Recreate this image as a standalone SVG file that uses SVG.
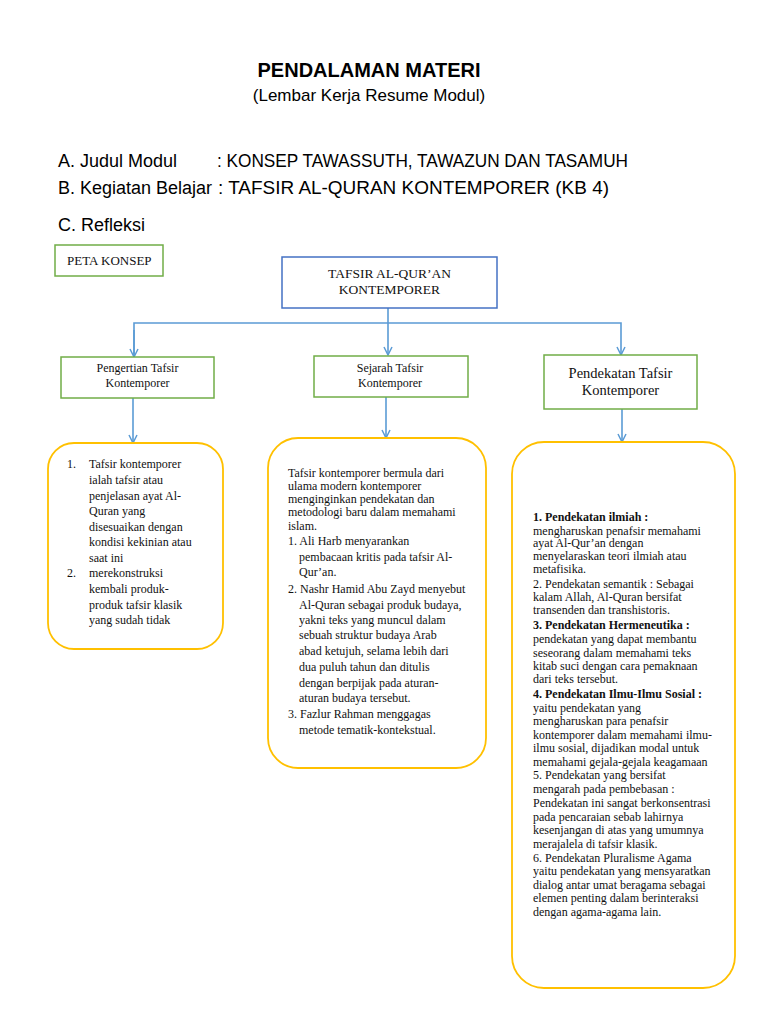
<svg xmlns="http://www.w3.org/2000/svg" width="768" height="1024" viewBox="0 0 768 1024">
<defs>
<style>
.hd{font-family:"Liberation Sans",Arial,sans-serif;fill:#000}
.sf{font-family:"Liberation Serif","Times New Roman",serif;fill:#111}
.bt{font-family:"Liberation Serif","Times New Roman",serif;font-size:12px;fill:#111}
.b{font-weight:bold}
.gbox{fill:#fff;stroke:#70AD47;stroke-width:1.5}
.bbox{fill:#fff;stroke:#4472C4;stroke-width:1.5}
.ybox{fill:#fff;stroke:#FFC000;stroke-width:1.8}
.con{fill:none;stroke:#5B9BD5;stroke-width:1.6}
</style>
<marker id="arr" viewBox="0 0 10 10" refX="9" refY="5" markerWidth="10" markerHeight="10" markerUnits="userSpaceOnUse" orient="auto">
<path d="M1,1 L9,5 L1,9" fill="none" stroke="#5B9BD5" stroke-width="1.5"/>
</marker>
</defs>
<rect width="768" height="1024" fill="#fff"/>

<g id="header">
<text class="hd b" x="369" y="77" font-size="20" text-anchor="middle">PENDALAMAN MATERI</text>
<text class="hd" x="369" y="101" font-size="17" text-anchor="middle">(Lembar Kerja Resume Modul)</text>
<text class="hd" x="58" y="167" font-size="18">A. Judul Modul</text>
<text class="hd" x="217" y="167" font-size="18" textLength="411" lengthAdjust="spacingAndGlyphs">: KONSEP TAWASSUTH, TAWAZUN DAN TASAMUH</text>
<text class="hd" x="58" y="194" font-size="18">B. Kegiatan Belajar</text>
<text class="hd" x="218" y="194" font-size="18" textLength="391" lengthAdjust="spacingAndGlyphs">: TAFSIR AL-QURAN KONTEMPORER (KB 4)</text>
<text class="hd" x="58" y="231" font-size="18">C. Refleksi</text>
</g>

<g id="peta-konsep">
<rect class="gbox" x="55" y="245" width="108" height="31"/>
<text class="sf" x="67" y="265" font-size="13">PETA KONSEP</text>
</g>

<g id="connectors">
<line class="con" x1="388" y1="308" x2="388" y2="355" marker-end="url(#arr)"/>
<polyline class="con" points="134,357 134,323 621,323 621,355" marker-end="url(#arr)"/>
<line class="con" x1="134" y1="330" x2="134" y2="357" marker-end="url(#arr)"/>
<line class="con" x1="133" y1="398" x2="133" y2="443" marker-end="url(#arr)"/>
<line class="con" x1="386" y1="397" x2="386" y2="438" marker-end="url(#arr)"/>
<line class="con" x1="622" y1="409" x2="622" y2="442" marker-end="url(#arr)"/>
</g>

<g id="main">
<rect class="bbox" x="282" y="257" width="215" height="51"/>
<text class="sf" x="389.5" y="278" font-size="13.5" text-anchor="middle">TAFSIR AL-QUR’AN</text>
<text class="sf" x="389.5" y="294" font-size="13.5" text-anchor="middle">KONTEMPORER</text>
</g>

<g id="pengertian">
<rect class="gbox" x="61" y="357" width="153" height="41"/>
<text class="sf" x="137.5" y="372" font-size="12" text-anchor="middle">Pengertian Tafsir</text>
<text class="sf" x="137.5" y="387" font-size="12" text-anchor="middle">Kontemporer</text>
</g>

<g id="sejarah">
<rect class="gbox" x="314" y="356" width="154" height="41"/>
<text class="sf" x="390" y="372" font-size="12" text-anchor="middle">Sejarah Tafsir</text>
<text class="sf" x="390" y="387" font-size="12" text-anchor="middle">Kontemporer</text>
</g>

<g id="pendekatan">
<rect class="gbox" x="544" y="355" width="153" height="54"/>
<text class="sf" x="620.5" y="378" font-size="14.5" text-anchor="middle">Pendekatan Tafsir</text>
<text class="sf" x="620.5" y="395" font-size="14.5" text-anchor="middle">Kontemporer</text>
</g>

<g id="isi-pengertian">
<rect class="ybox" x="48" y="443" width="175" height="206" rx="26" ry="26"/>
<text class="bt" x="67" y="468">1.</text>
<text class="bt" x="89" y="468">Tafsir kontemporer</text>
<text class="bt" x="89" y="484">ialah tafsir atau</text>
<text class="bt" x="89" y="500">penjelasan ayat Al-</text>
<text class="bt" x="89" y="515">Quran yang</text>
<text class="bt" x="89" y="531">disesuaikan dengan</text>
<text class="bt" x="89" y="546">kondisi kekinian atau</text>
<text class="bt" x="89" y="562">saat ini</text>
<text class="bt" x="67" y="577">2.</text>
<text class="bt" x="89" y="577">merekonstruksi</text>
<text class="bt" x="89" y="593">kembali produk-</text>
<text class="bt" x="89" y="609">produk tafsir klasik</text>
<text class="bt" x="89" y="624">yang sudah tidak</text>
</g>

<g id="isi-sejarah">
<rect class="ybox" x="268" y="438" width="218" height="330" rx="30" ry="30"/>
<text class="bt" x="288" y="477">Tafsir kontemporer bermula dari</text>
<text class="bt" x="288" y="490">ulama modern kontemporer</text>
<text class="bt" x="288" y="503">menginginkan pendekatan dan</text>
<text class="bt" x="288" y="516">metodologi baru dalam memahami</text>
<text class="bt" x="288" y="530">islam.</text>
<text class="bt" x="288" y="545">1. Ali Harb menyarankan</text>
<text class="bt" x="299" y="561">pembacaan kritis pada tafsir Al-</text>
<text class="bt" x="299" y="576">Qur’an.</text>
<text class="bt" x="288" y="593">2. Nashr Hamid Abu Zayd menyebut</text>
<text class="bt" x="299" y="609">Al-Quran sebagai produk budaya,</text>
<text class="bt" x="299" y="624">yakni teks yang muncul dalam</text>
<text class="bt" x="299" y="639">sebuah struktur budaya Arab</text>
<text class="bt" x="299" y="655">abad ketujuh, selama lebih dari</text>
<text class="bt" x="299" y="671">dua puluh tahun dan ditulis</text>
<text class="bt" x="299" y="687">dengan berpijak pada aturan-</text>
<text class="bt" x="299" y="702">aturan budaya tersebut.</text>
<text class="bt" x="288" y="718">3. Fazlur Rahman menggagas</text>
<text class="bt" x="299" y="734">metode tematik-kontekstual.</text>
</g>

<g id="isi-pendekatan">
<rect class="ybox" x="512" y="442" width="223" height="546" rx="32" ry="32"/>
<text class="bt b" x="533" y="521">1. Pendekatan ilmiah :</text>
<text class="bt" x="533" y="535">mengharuskan penafsir memahami</text>
<text class="bt" x="533" y="547">ayat Al-Qur’an dengan</text>
<text class="bt" x="533" y="560">menyelaraskan teori ilmiah atau</text>
<text class="bt" x="533" y="573">metafisika.</text>
<text class="bt" x="533" y="588">2. Pendekatan semantik : Sebagai</text>
<text class="bt" x="533" y="601">kalam Allah, Al-Quran bersifat</text>
<text class="bt" x="533" y="614">transenden dan transhistoris.</text>
<text class="bt b" x="533" y="629">3. Pendekatan Hermeneutika :</text>
<text class="bt" x="533" y="643">pendekatan yang dapat membantu</text>
<text class="bt" x="533" y="657">seseorang dalam memahami teks</text>
<text class="bt" x="533" y="670">kitab suci dengan cara pemaknaan</text>
<text class="bt" x="533" y="683">dari teks tersebut.</text>
<text class="bt b" x="533" y="698">4. Pendekatan Ilmu-Ilmu Sosial :</text>
<text class="bt" x="533" y="712">yaitu pendekatan yang</text>
<text class="bt" x="533" y="725">mengharuskan para penafsir</text>
<text class="bt" x="533" y="739">kontemporer dalam memahami ilmu-</text>
<text class="bt" x="533" y="752">ilmu sosial, dijadikan modal untuk</text>
<text class="bt" x="533" y="766">memahami gejala-gejala keagamaan</text>
<text class="bt" x="533" y="779">5. Pendekatan yang bersifat</text>
<text class="bt" x="533" y="793">mengarah pada pembebasan :</text>
<text class="bt" x="533" y="807">Pendekatan ini sangat berkonsentrasi</text>
<text class="bt" x="533" y="821">pada pencaraian sebab lahirnya</text>
<text class="bt" x="533" y="834">kesenjangan di atas yang umumnya</text>
<text class="bt" x="533" y="848">merajalela di tafsir klasik.</text>
<text class="bt" x="533" y="862">6. Pendekatan Pluralisme Agama</text>
<text class="bt" x="533" y="875">yaitu pendekatan yang mensyaratkan</text>
<text class="bt" x="533" y="889">dialog antar umat beragama sebagai</text>
<text class="bt" x="533" y="902">elemen penting dalam berinteraksi</text>
<text class="bt" x="533" y="916">dengan agama-agama lain.</text>
</g>
</svg>
